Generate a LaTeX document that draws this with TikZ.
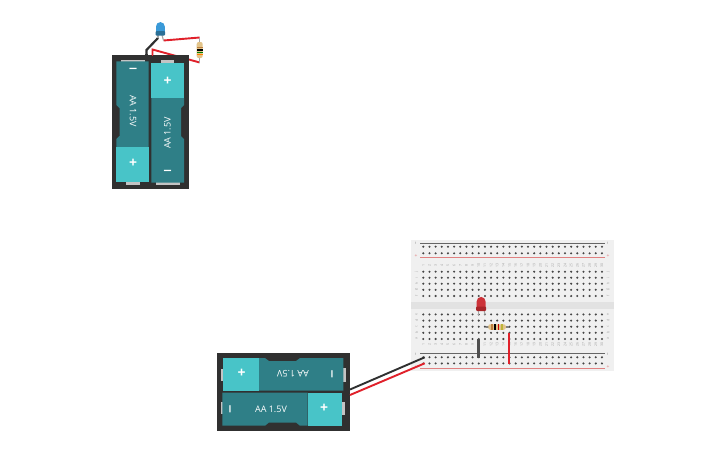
\documentclass[tikz,border=0pt]{standalone}
\usepackage{fontspec}
\setmainfont{Open Sans}
\definecolor{holder}{HTML}{303030}
\definecolor{cellteal}{HTML}{2F7F87}
\definecolor{capteal}{HTML}{48C4C8}
\definecolor{terminal}{HTML}{C4C4C4}
\definecolor{boardc}{HTML}{F0F0F0}
\definecolor{channel}{HTML}{E2E2E2}
\definecolor{hole}{HTML}{454545}
\definecolor{railred}{HTML}{E08080}
\definecolor{railblack}{HTML}{666666}
\definecolor{wirered}{HTML}{E0202A}
\definecolor{wireblack}{HTML}{303030}
\definecolor{bluelight}{HTML}{3A9AD8}
\definecolor{bluedark}{HTML}{2A6F96}
\definecolor{redled}{HTML}{CC3238}
\definecolor{redleddark}{HTML}{A82428}
\definecolor{restan}{HTML}{E2C48A}
\tikzset{
  redwire/.style={draw=wirered,line width=1.9pt},
  blackwire/.style={draw=wireblack,line width=1.9pt},
  lead/.style={draw=gray!70,line width=1.1pt},
  celltext/.style={text=white,font=\fontsize{9}{10}\selectfont,inner sep=0pt},
  marktext/.style={text=white,font=\fontsize{14}{14}\selectfont\bfseries,inner sep=0pt},
  minustext/.style={text=white,font=\fontsize{17}{17}\selectfont,inner sep=0pt},
  tiny/.style={text=gray!75,font=\fontsize{3.5}{3.5}\selectfont,inner sep=0pt},
  rail/.style={line width=1pt},
  railmark/.style={inner sep=0pt,font=\fontsize{5}{5}\selectfont}
}
\begin{document}
\begin{tikzpicture}[x=1pt,y=-1pt]
\useasboundingbox[fill=white] (0,0) rectangle (725,453);
% ---- breadboard
\fill[boardc] (411,240) rectangle (614,371);
\fill[channel] (411,302) rectangle (614,308.5);
\draw[rail,railblack] (420,243) -- (605,243);
\draw[rail,railred] (420,257.6) -- (605,257.6);
\draw[rail,railblack] (420,353.4) -- (605,353.4);
\draw[rail,railred] (420,368) -- (605,368);
\foreach \yy in {246.7,253.3,271.7,277.7,283.7,289.8,296,314.4,320.6,326.7,332.8,339,357.3,363.4}
  \foreach \i in {0,...,29}
    \fill[hole] ({423.3+6.16*\i},\yy) circle (1.15);
\foreach \i in {1,...,30} {
  \node[tiny,rotate=90] at ({423.3+6.16*(\i-1)},265.5) {\i};
  \node[tiny,rotate=90] at ({423.3+6.16*(\i-1)},344.5) {\i};
}
\foreach \l/\yy in {j/271.7,i/277.7,h/283.7,g/289.8,f/296,e/314.4,d/320.6,c/326.7,b/332.8,a/339} {
  \node[tiny,rotate=90] at (416.5,\yy) {\l};
  \node[tiny,rotate=90] at (608,\yy) {\l};
}
\foreach \xx in {416,608} {
  \node[railmark,text=gray,rotate=90] at (\xx,243) {--};
  \node[railmark,text=railred] at (\xx,256) {+};
  \node[railmark,text=gray,rotate=90] at (\xx,354) {--};
  \node[railmark,text=railred] at (\xx,367) {+};
}
% board wires
\coordinate (bk1) at (478.6,338.5); \coordinate (bk2) at (478.6,358);
\coordinate (rd1) at (509,332.5); \coordinate (rd2) at (509,364);
\draw[blackwire,draw=wireblack!85!white,line width=2.4pt] (bk1) -- (bk2);
\draw[redwire] (rd1) -- (rd2);
% red LED
\draw[lead] (484,309) -- (485,315);
\draw[lead] (478.5,309) -- (478.5,315);
\node (redbody) at (481,303) {};
\fill[redled] (476.7,309) -- (476.7,301.3) arc[start angle=180,end angle=360,radius=4.4] -- (485.5,309) -- cycle;
\fill[redleddark,rounded corners=1pt] (476.2,306.5) rectangle (486,311);
% board resistor
\draw[lead,draw=gray] (486,327) -- (509,327);
\node[fill=restan,rounded corners=2pt,minimum width=17.5pt,minimum height=5.5pt,inner sep=0pt] (bbres) at (497,327) {};
\foreach \xx/\c in {491.7/brown,494.7/black,498.3/red!80!black,502/yellow!70!black}
  \fill[\c] (\xx-.8,324.3) rectangle (\xx+.8,329.7);
% upper circuit wires (they run behind the holder)
\coordinate (hb) at (146.5,56); \coordinate (hr) at (152.5,56);
\coordinate (la) at (158,38); \coordinate (lc) at (163.5,40.5);
\coordinate (r1) at (199.7,37.5); \coordinate (r2) at (199.7,62.5);
\draw[blackwire,line width=2.2pt] (hb) -- (146.5,50) -- (la);
\draw[redwire] (hr) -- (152.5,49.5) -- (r2);
\draw[redwire] (lc) -- (r1);
\draw[lead] (la) -- (158,35);
\draw[lead] (lc) -- (162,35);
\draw[lead] (r1) -- (r2);
% ---- upper battery holder
\fill[holder] (112,55) rectangle (188.5,188.5);
\fill[terminal] (121,60) rectangle (145,63);
\fill[terminal] (161,60) rectangle (174,63);
\fill[terminal] (126,181.5) rectangle (140,184.5);
\fill[terminal] (155.5,182) rectangle (180,184.5);
% left cell (minus up)
\fill[cellteal] (116.3,61.3) -- (148.7,61.3) -- (148.7,147) -- (116.3,147) -- (116.3,139) -- (119.5,136) -- (119.5,108) -- (116.3,105) -- cycle;
\fill[capteal] (116.3,147) rectangle (148.7,181.7);
\node[minustext] (m1) at (133,71) {–};
\node[marktext] (p1) at (133,163.5) {+};
\node[celltext,rotate=-90] (c1) at (133,111) {AA 1.5V};
% right cell (plus up)
\fill[capteal] (151.3,62.7) rectangle (184,98);
\fill[cellteal] (151.3,98) -- (184,98) -- (184,105) -- (181,108) -- (181,136) -- (184,139) -- (184,182.7) -- (151.3,182.7) -- cycle;
\node[marktext] (p2) at (167.5,81) {+};
\node[minustext] (m2) at (167.5,173) {–};
\node[celltext,rotate=90] (c2) at (167.5,133) {AA 1.5V};
% stubs on the holder
\draw[blackwire,line width=2.2pt] (hb) -- (146.5,54);
\draw[redwire] (hr) -- (152.5,52);
% blue LED
\fill[bluelight] (156,33) -- (156,26.5) arc[start angle=180,end angle=360,radius=4.4] -- (164.8,33) -- cycle;
\fill[bluedark,rounded corners=1pt] (155.5,31) rectangle (165.2,35.5);
\node (blue) at (160.4,29) {};
% upper resistor
\node[fill=restan,rounded corners=2pt,minimum width=6pt,minimum height=16pt,inner sep=0pt] (res) at (r1 |- 0,50) {};
\foreach \yy/\c in {47.5/brown,49.8/black,52.2/green!50!black,54.5/orange}
  \fill[\c] (196.9,\yy-.7) rectangle (202.5,\yy+.7);
% ---- lower battery holder
\fill[holder] (216.5,353) rectangle (349.5,430.5);
\fill[terminal] (221,369) rectangle (223.5,381);
\fill[terminal] (343,368) rectangle (345.5,382);
\fill[terminal] (220.5,402) rectangle (222.5,414);
\fill[terminal] (342,402) rectangle (344.5,415);
% top cell
\fill[capteal] (223.3,358) rectangle (259,390.7);
\fill[cellteal] (259,358) -- (265,358) -- (269,361) -- (296,361) -- (300,358) -- (343.3,358) -- (343.3,390.7) -- (259,390.7) -- cycle;
\node[marktext] (p3) at (241.5,373.5) {+};
\node[minustext,rotate=90] (m3) at (334,374) {–};
\node[celltext,rotate=180] (c3) at (293,374) {AA 1.5V};
% bottom cell
\fill[cellteal] (222.3,392.7) -- (307.7,392.7) -- (307.7,425.7) -- (300,425.7) -- (296,422.5) -- (269,422.5) -- (265,425.7) -- (222.3,425.7) -- cycle;
\fill[capteal] (307.7,392.7) rectangle (342.3,425.7);
\node[minustext,rotate=90] (m4) at (232,409) {–};
\node[marktext] (p4) at (324,408.5) {+};
\node[celltext] (c4) at (271,409) {AA 1.5V};
% holder wires to breadboard
\coordinate (hbb) at (350,389.5); \coordinate (hrr) at (350,395);
\coordinate (bbb) at (424.7,357.3); \coordinate (brr) at (424.7,363.3);
\draw[blackwire] (hbb) -- (bbb);
\draw[redwire] (hrr) -- (brr);
\end{tikzpicture}
\end{document}
